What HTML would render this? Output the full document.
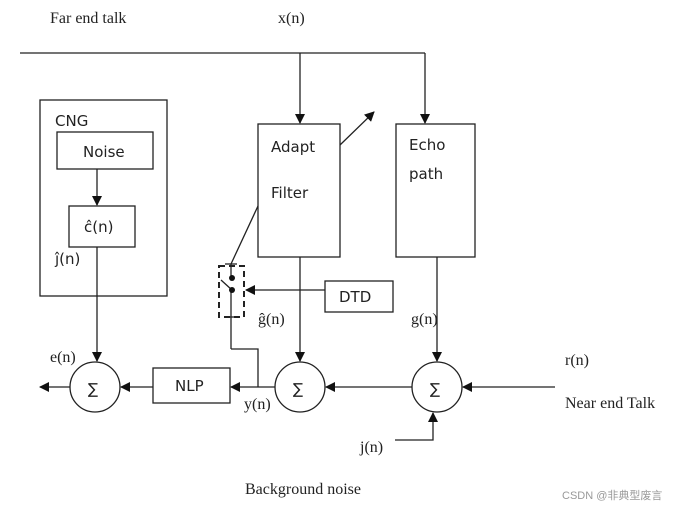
<!DOCTYPE html>
<html><head><style>
body{margin:0;background:#fff}
svg text{font-family:"Liberation Serif",serif;font-size:16px;fill:#222}
.s{font-family:"DejaVu Sans","Liberation Sans",sans-serif;font-size:15px}
</style></head><body>
<svg width="677" height="509" viewBox="0 0 677 509" xmlns="http://www.w3.org/2000/svg">
<defs><marker id="a" markerWidth="10" markerHeight="10" refX="9" refY="5" orient="auto" markerUnits="userSpaceOnUse"><path d="M0,0L10,5L0,10z" fill="#111"/></marker></defs>
<g stroke="#222" stroke-width="1.3" fill="none">
<line x1="20" y1="53" x2="425" y2="53"/>
<line x1="300" y1="53" x2="300" y2="123" marker-end="url(#a)"/>
<line x1="425" y1="53" x2="425" y2="123" marker-end="url(#a)"/>
<rect x="40" y="100" width="127" height="196"/>
<rect x="57" y="132" width="96" height="37"/>
<line x1="97" y1="169" x2="97" y2="205" marker-end="url(#a)"/>
<rect x="69" y="206" width="66" height="41"/>
<line x1="97" y1="247" x2="97" y2="361" marker-end="url(#a)"/>
<rect x="258" y="124" width="82" height="133"/>
<line x1="340" y1="145" x2="374" y2="112" marker-end="url(#a)"/>
<rect x="396" y="124" width="79" height="133"/>
<rect x="325" y="281" width="68" height="31"/>
<rect x="219" y="266" width="25" height="51" stroke-dasharray="6,4" stroke-width="2"/>
<line x1="258" y1="206" x2="231" y2="264"/>
<line x1="225" y1="264" x2="237" y2="264"/>
<line x1="231" y1="264" x2="231" y2="278"/>
<line x1="221" y1="280" x2="232" y2="290"/>
<line x1="231" y1="290" x2="231" y2="349"/>
<line x1="225" y1="317" x2="237" y2="317"/>
<polyline points="231,349 258,349 258,387"/>
<line x1="325" y1="290" x2="246" y2="290" marker-end="url(#a)"/>
<line x1="300" y1="257" x2="300" y2="361" marker-end="url(#a)"/>
<line x1="437" y1="257" x2="437" y2="361" marker-end="url(#a)"/>
<circle cx="95" cy="387" r="25"/>
<circle cx="300" cy="387" r="25"/>
<circle cx="437" cy="387" r="25"/>
<rect x="153" y="368" width="77" height="35"/>
<line x1="555" y1="387" x2="463" y2="387" marker-end="url(#a)"/>
<line x1="412" y1="387" x2="326" y2="387" marker-end="url(#a)"/>
<line x1="275" y1="387" x2="231" y2="387" marker-end="url(#a)"/>
<line x1="153" y1="387" x2="121" y2="387" marker-end="url(#a)"/>
<line x1="70" y1="387" x2="40" y2="387" marker-end="url(#a)"/>
<polyline points="395,440 433,440 433,413" marker-end="url(#a)"/>
</g>
<circle cx="232" cy="278" r="3" fill="#111"/><circle cx="232" cy="290" r="3" fill="#111"/>
<text x="50" y="23">Far end talk</text>
<text x="278" y="23">x(n)</text>
<text class="s" x="55" y="126" font-size="14">CNG</text>
<text class="s" x="83" y="157">Noise</text>
<text class="s" x="84" y="232">ĉ(n)</text>
<text class="s" x="55" y="264">ĵ(n)</text>
<text class="s" x="271" y="152">Adapt</text>
<text class="s" x="271" y="198">Filter</text>
<text class="s" x="409" y="150">Echo</text>
<text class="s" x="409" y="179">path</text>
<text class="s" x="339" y="302">DTD</text>
<text class="s" x="175" y="391">NLP</text>
<text x="258" y="324">ĝ(n)</text>
<text x="411" y="324">g(n)</text>
<text x="50" y="362">e(n)</text>
<text x="244" y="409">y(n)</text>
<text x="565" y="365">r(n)</text>
<text x="565" y="408">Near end Talk</text>
<text x="360" y="452">j(n)</text>
<text x="245" y="494">Background noise</text>
<text x="88" y="394" class="s" font-size="17">∑</text>
<text x="293" y="394" class="s" font-size="17">∑</text>
<text x="430" y="394" class="s" font-size="17">∑</text>
<text x="562" y="499" style="font-family:'Liberation Sans','Noto Sans CJK SC',sans-serif;font-size:11px;fill:#999">CSDN @非典型废言</text>
</svg>
</body></html>
